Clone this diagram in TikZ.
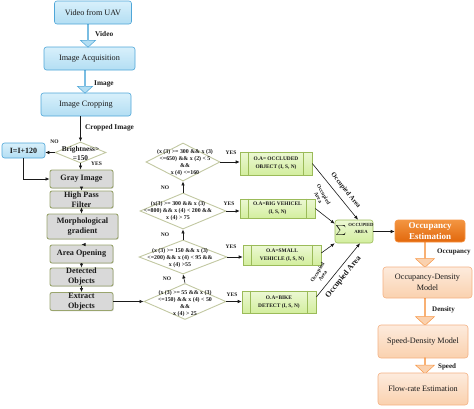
\documentclass[tikz,border=0pt]{standalone}
\usepackage{fontspec}
\setmainfont{Liberation Serif}
\usetikzlibrary{shapes.geometric,shapes.arrows,arrows.meta,shadows}
\definecolor{bluefill}{HTML}{B3DEF3}
\definecolor{bluefilltop}{HTML}{D8F0FB}
\definecolor{blueline}{HTML}{4FA6D8}
\definecolor{grayfill}{HTML}{D9D9D9}
\definecolor{grayline}{HTML}{9AA56E}
\definecolor{dline}{HTML}{C2C8A2}
\definecolor{greenfill}{HTML}{D3EE9E}
\definecolor{greenfilltop}{HTML}{ECF8D4}
\definecolor{greenline}{HTML}{9BBB59}
\definecolor{orangedark}{HTML}{E2680C}
\definecolor{orangemid}{HTML}{F39541}
\definecolor{orangeline}{HTML}{F79646}
\definecolor{peach}{HTML}{FAD1AE}
\definecolor{peachtop}{HTML}{FDEBDD}
\definecolor{peachline}{HTML}{F4B183}
\definecolor{txt}{HTML}{1A1A1A}
\begin{document}
\begin{tikzpicture}[x=1pt,y=-1pt,
  bluebox/.style={draw=blueline, line width=0.6pt, rounded corners=2.5pt, top color=bluefilltop, bottom color=bluefill, font=\fontsize{8.2}{9}\selectfont, text=txt, inner sep=0pt, align=center},
  graybox/.style={draw=grayline, line width=0.9pt, rounded corners=2pt, fill=grayfill, font=\fontsize{8.2}{10}\selectfont\bfseries, text=txt, align=center, inner sep=0pt, drop shadow={opacity=0.25,shadow xshift=0.8pt,shadow yshift=-0.8pt}},
  decision/.style={diamond, draw=dline, line width=0.9pt, fill=white, inner sep=0pt},
  dtext/.style={font=\fontsize{5.9}{7}\selectfont\bfseries, text=txt, align=center, inner sep=0pt},
  oabox/.style={draw=greenline, line width=0.6pt, top color=greenfilltop, bottom color=greenfill, font=\fontsize{5.4}{7.6}\selectfont\bfseries, text=txt, align=center, inner sep=0pt},
  peachbox/.style={draw=peachline, line width=0.6pt, rounded corners=3pt, top color=peachtop, bottom color=peach, font=\fontsize{8.2}{10.5}\selectfont, text=txt, align=center, inner sep=0pt},
  bluearrow/.style={single arrow, rotate=-90, draw=blueline, fill=bluefill, line width=0.5pt, minimum width=15pt, single arrow head extend=3pt, single arrow tip angle=95, inner sep=0pt, minimum height=#1},
  orangearrow/.style={single arrow, rotate=-90, draw=orangeline, fill=peach, line width=0.5pt, minimum width=19pt, single arrow head extend=3.5pt, single arrow tip angle=95, inner sep=0pt, minimum height=#1},
  lbl/.style={font=\fontsize{7.3}{8}\selectfont\bfseries, text=txt, inner sep=0pt},
  yn/.style={font=\fontsize{5.5}{6}\selectfont\bfseries, text=txt, inner sep=0pt},
  occ/.style={font=\fontsize{5.4}{6.2}\selectfont\bfseries, text=txt, align=center, inner sep=0.5pt},
  arr/.style={-{Latex[length=4pt,width=3.5pt]}, line width=0.6pt, draw=txt}
]
\useasboundingbox (0,0) rectangle (474,408);

% ---- left column (blue) ----
\node[bluebox, minimum width=77pt, minimum height=23pt] (vid) at (93,12.5) {Video from UAV};
\node[bluebox, minimum width=91pt, minimum height=23pt] (acq) at (89.5,58.5) {Image Acquisition};
\node[bluebox, minimum width=90pt, minimum height=23pt] (crop) at (86,104.5) {Image Cropping};
\node[bluearrow=23pt] (ba1) at (88,35.5) {};
\node[bluearrow=23pt] (ba2) at (85,81.5) {};
\node[lbl, anchor=west] (lvid) at (95,34) {Video};
\node[lbl, anchor=west] (limg) at (94,84) {Image};
\node[lbl, anchor=west] (lcrop) at (85,128) {Cropped Image};

% ---- brightness decision ----
\node[decision, minimum width=51pt, minimum height=21pt] (bright) at (80.5,152.5) {};
\node[dtext, font=\fontsize{7.3}{9}\selectfont\bfseries] (brightt) at (80.5,153.5) {Brightness>\\=150};
\node[bluebox, font=\fontsize{8}{9}\selectfont\bfseries, minimum width=43pt, minimum height=15pt] (ibox) at (23.5,150.5) {I=I+120};
\node[yn] (bno) at (54.5,142) {NO};
\node[yn] (byes) at (96.5,164) {YES};

% ---- gray column ----
\node[graybox, minimum width=63pt, minimum height=18pt] (gray) at (81.5,179) {Gray Image};
\node[graybox, minimum width=63pt, minimum height=17pt] (hpf) at (81.5,199.5) {High Pass\\Filter};
\node[graybox, minimum width=71pt, minimum height=25pt] (morph) at (82.5,226.5) {Morphological\\gradient};
\node[graybox, minimum width=63pt, minimum height=18pt] (area) at (81.5,254) {Area Opening};
\node[graybox, minimum width=63pt, minimum height=18pt] (det) at (81.5,277) {Detected\\Objects};
\node[graybox, minimum width=63pt, minimum height=18pt] (ext) at (81.5,301.5) {Extract\\Objects};

% connectors left
\draw[arr] (bright.north |- crop.south) -- (bright.north);
\draw[arr] (bright.west) -- (bright.west -| ibox.east);
\draw[arr] (ibox.south) |- (gray.west);
\draw[arr] (bright.south) -- (bright.south |- gray.north);
\draw[arr] (gray.south) -- (hpf.north);
\draw[arr] (hpf.south) -- (morph.north -| hpf.south);
\draw[arr] (area.north -| morph.south) -- (area.north);
\draw[arr] (area.south) -- (det.north);
\draw[arr] (det.south) -- (ext.north);

% ---- classification diamonds ----
\node[decision, minimum width=74pt, minimum height=38pt] (d1) at (183,162) {};
\node[decision, minimum width=86pt, minimum height=36pt] (d2) at (183,211) {};
\node[decision, minimum width=88pt, minimum height=34pt] (d3) at (183,257) {};
\node[decision, minimum width=82pt, minimum height=36pt] (d4) at (185,301.5) {};
\node[dtext] (d1t) at (185,163) {(x (3) >= 300 \&\& x (3)\\<=650) \&\& x (2) < 5\\\&\&\\x (4) <=160};
\node[dtext] (d2t) at (178,211.5) {(x(3) >= 300 \&\& x (3)\\<=800) \&\& x (4) < 200 \&\&\\x (4) > 75};
\node[dtext] (d3t) at (180,258.5) {(x (3) >= 150 \&\& x (3)\\<=200) \&\& x (4) < 95 \&\&\\x (4) >55};
\node[dtext] (d4t) at (185,303.5) {(x (3) >= 55 \&\& x (3)\\<=150) \&\& x (4) < 50\\\&\&\\x (4) > 25};

\node[yn] (no1) at (165,188) {NO};
\node[yn] (no2) at (165,235) {NO};
\node[yn] (no3) at (167,279) {NO};
\node[yn] (yes1) at (231,152.5) {YES};
\node[yn] (yes2) at (229,204) {YES};
\node[yn] (yes3) at (231,247) {YES};
\node[yn] (yes4) at (232,294.5) {YES};

\draw[arr] (ext.east) -- (ext.east -| d4.west);
\draw[arr] (d4.north) -- (d3.south);
\draw[arr] (d3.north) -- (d2.south);
\draw[arr] (d2.north) -- (d1.south);

% ---- O.A boxes ----
\node[oabox, minimum width=72pt, minimum height=23pt] (b1) at (276,163.5) {O.A= OCCLUDED\\OBJECT (I, S, N)};
\node[oabox, minimum width=75pt, minimum height=19pt] (b2) at (277.5,208.5) {O.A=BIG VEHICEL\\(I, S, N)};
\node[oabox, minimum width=78pt, minimum height=20pt] (b3) at (282,255) {O.A=SMALL\\VEHICLE (I, S, N)};
\node[oabox, minimum width=74pt, minimum height=22pt] (b4) at (279,302) {O.A=BIKE\\DETECT (I, S, N)};
\foreach \b in {b1,b2,b3,b4}{
  \draw[greenline, line width=0.6pt] ([xshift=9pt]\b.north west) -- ([xshift=9pt]\b.south west);
  \draw[greenline, line width=0.6pt] ([xshift=-9pt]\b.north east) -- ([xshift=-9pt]\b.south east);
}
\draw[arr] (d1.east) -- (d1.east -| b1.west);
\draw[arr] (d2.east) -- (d2.east -| b2.west);
\draw[arr] (d3.east) -- (d3.east -| b3.west);
\draw[arr] (d4.east) -- (d4.east -| b4.west);

% ---- sum box ----
\node[draw=greenline, line width=0.6pt, rounded corners=2.5pt, top color=greenfilltop, bottom color=greenfill, minimum width=38pt, minimum height=23pt, inner sep=0pt] (sum) at (354,231.5) {};
\node[inner sep=0pt, font=\fontsize{10}{10}\selectfont] (sumsig) at (341,230) {$\sum$};
\node[occ, font=\fontsize{4.7}{6.5}\selectfont\bfseries] (sumtxt) at (361,228.5) {OCCUPIED\\AREA};

\draw[arr] (b1.east) -- node[occ, font=\fontsize{6.7}{7}\selectfont\bfseries, sloped, above=5pt, pos=0.58] (lo1) {Occupied Area} ([xshift=4pt]sum.north);
\draw[arr] (b2.east) -- ([yshift=-4pt]sum.north west);
\draw[arr] ([yshift=2pt]b3.east) -- (sum.south west);
\draw[arr] ([yshift=5pt]b4.east) -- node[occ, font=\fontsize{8}{9}\selectfont\bfseries, sloped, below=4pt, pos=0.47] (lo4) {Occupied Area} ([xshift=6pt]sum.south);
\node[occ, rotate=-60] (lo2) at (321,196) {Occupied\\Area};
\node[occ, rotate=58] (lo3) at (320,274) {Occupied\\Area};

% ---- right column (orange) ----
\node[draw=orangeline, line width=0.6pt, rounded corners=3pt, top color=orangemid, bottom color=orangedark, text=white, font=\fontsize{9}{10.5}\selectfont\bfseries, align=center, minimum width=70pt, minimum height=22pt, inner sep=0pt] (occest) at (430,231) {Occupancy\\Estimation};
\draw[arr] (sum.east) -- (sum.east -| occest.west);
\node[orangearrow=25pt] (oa1) at (425,254.5) {};
\node[peachbox, minimum width=89pt, minimum height=31pt] (odm) at (427.5,282.5) {Occupancy-Density\\Model};
\node[orangearrow=27pt] (oa2) at (425,311.5) {};
\node[peachbox, minimum width=90pt, minimum height=33pt] (sdm) at (423,341.5) {Speed-Density Model};
\node[orangearrow=16pt] (oa3) at (425,365.5) {};
\node[peachbox, minimum width=90pt, minimum height=32pt] (fre) at (423,389) {Flow-rate Estimation};
\node[lbl, font=\fontsize{7}{7.5}\selectfont\bfseries, anchor=west] (locc) at (437,252) {Occupancy};
\node[lbl, font=\fontsize{7}{7.5}\selectfont\bfseries, anchor=west] (lden) at (432,310) {Density};
\node[lbl, font=\fontsize{7}{7.5}\selectfont\bfseries, anchor=west] (lspd) at (438,367) {Speed};
\end{tikzpicture}
\end{document}
